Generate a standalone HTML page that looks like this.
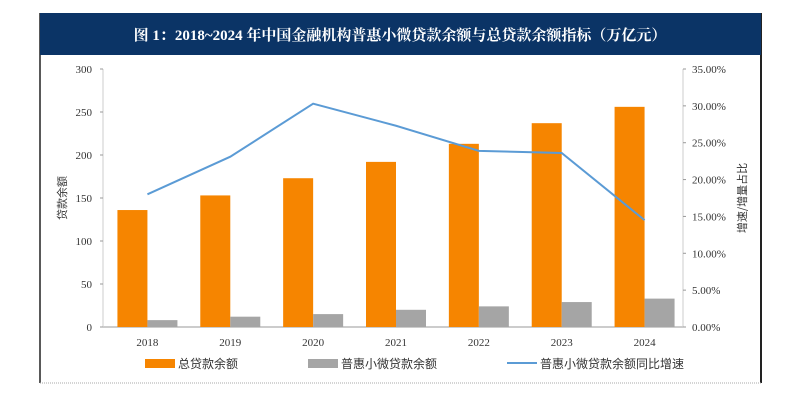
<!DOCTYPE html>
<html><head><meta charset="utf-8"><style>
body{margin:0;background:#fff;width:788px;height:403px;overflow:hidden;font-family:"Liberation Serif","Noto Serif CJK SC",serif}
</style></head><body>
<svg width="788" height="403" xmlns="http://www.w3.org/2000/svg">
<line x1="40" y1="13" x2="40" y2="383" stroke="#222" stroke-width="1.5"/>
<line x1="761" y1="13" x2="761" y2="383" stroke="#222" stroke-width="2"/>
<line x1="40" y1="383" x2="761" y2="383" stroke="#aaa" stroke-dasharray="1,1"/>
<rect x="40" y="13" width="721" height="42" fill="#0b3466"/>
<text x="400" y="40" text-anchor="middle" fill="#fff" font-size="15" font-weight="bold">图 1：2018~2024 年中国金融机构普惠小微贷款余额与总贷款余额指标（万亿元）</text>
<g id="g" font-size="11" fill="#333"></g>
</svg>
<script>
const categories=["2018","2019","2020","2021","2022","2023","2024"];
const totalLoans=[136,153,173,192,213,237,256];
const microLoans=[8,12,15,20,24,29,33];
const growthPct=[18.0,23.1,30.3,27.3,23.9,23.6,14.5];
const leftTicks=[0,50,100,150,200,250,300];
const rightTicks=[0,5,10,15,20,25,30,35];
const NS="http://www.w3.org/2000/svg";
const g=document.getElementById('g');
const X0=103,X1=683,Y0=327,Y1=69;
const step=(X1-X0)/categories.length;
const yL=v=>Y0-(v/300)*(Y0-Y1);
const yR=v=>Y0-(v/35)*(Y0-Y1);
const cx=i=>X0+step*(i+0.5)+3;
function mk(t,a,txt){const e=document.createElementNS(NS,t);for(const k in a)e.setAttribute(k,a[k]);if(txt!=null)e.textContent=txt;g.appendChild(e);return e;}
let e;
e=mk('line',{x1:X0,y1:Y0,x2:X1,y2:Y0,stroke:'#999'});
e=mk('line',{x1:X0,y1:Y1,x2:X0,y2:Y0,stroke:'#ccc'});
e=mk('line',{x1:X1,y1:Y1,x2:X1,y2:Y0,stroke:'#ccc'});
leftTicks.forEach(v=>{e=mk('text',{x:92,y:yL(v)+4,'text-anchor':'end'},String(v));
 mk('line',{x1:X0-3,y1:yL(v),x2:X0,y2:yL(v),stroke:'#999'});});
rightTicks.forEach(v=>{e=mk('text',{x:692,y:yR(v)+4},v.toFixed(2)+'%');
 mk('line',{x1:X1,y1:yR(v),x2:X1+3,y2:yR(v),stroke:'#999'});});
categories.forEach((c,i)=>{
 e=mk('rect',{x:cx(i)-30,y:yL(totalLoans[i]),width:30,height:Y0-yL(totalLoans[i]),fill:'#f68500'});
 e=mk('rect',{x:cx(i),y:yL(microLoans[i]),width:30,height:Y0-yL(microLoans[i]),fill:'#a5a5a5'});
 e=mk('text',{x:cx(i),y:346,'text-anchor':'middle'},c);
});
e=mk('polyline',{points:growthPct.map((v,i)=>cx(i)+','+yR(v)).join(' '),fill:'none',stroke:'#5b9bd5','stroke-width':2});
e=mk('text',{transform:'translate(66,198) rotate(-90)','text-anchor':'middle','font-family':'Noto Sans CJK SC, sans-serif'},'贷款余额');
e=mk('text',{transform:'translate(746,198) rotate(-90)','text-anchor':'middle','font-family':'Noto Sans CJK SC, sans-serif'},'增速/增量占比');
const lg=[['#f68500','总贷款余额',145,'rect'],['#a5a5a5','普惠小微贷款余额',308,'rect'],['#5b9bd5','普惠小微贷款余额同比增速',507,'line']];
lg.forEach(l=>{
 if(l[3]==='rect')e=mk('rect',{x:l[2],y:359,width:30,height:9,fill:l[0]});
 else e=mk('line',{x1:l[2],y1:363,x2:l[2]+30,y2:363,stroke:l[0],'stroke-width':2});
 
 e=mk('text',{x:l[2]+33,y:368,'font-size':12,'font-family':'Noto Sans CJK SC, sans-serif'},l[1]);
});
</script>
</body></html>
